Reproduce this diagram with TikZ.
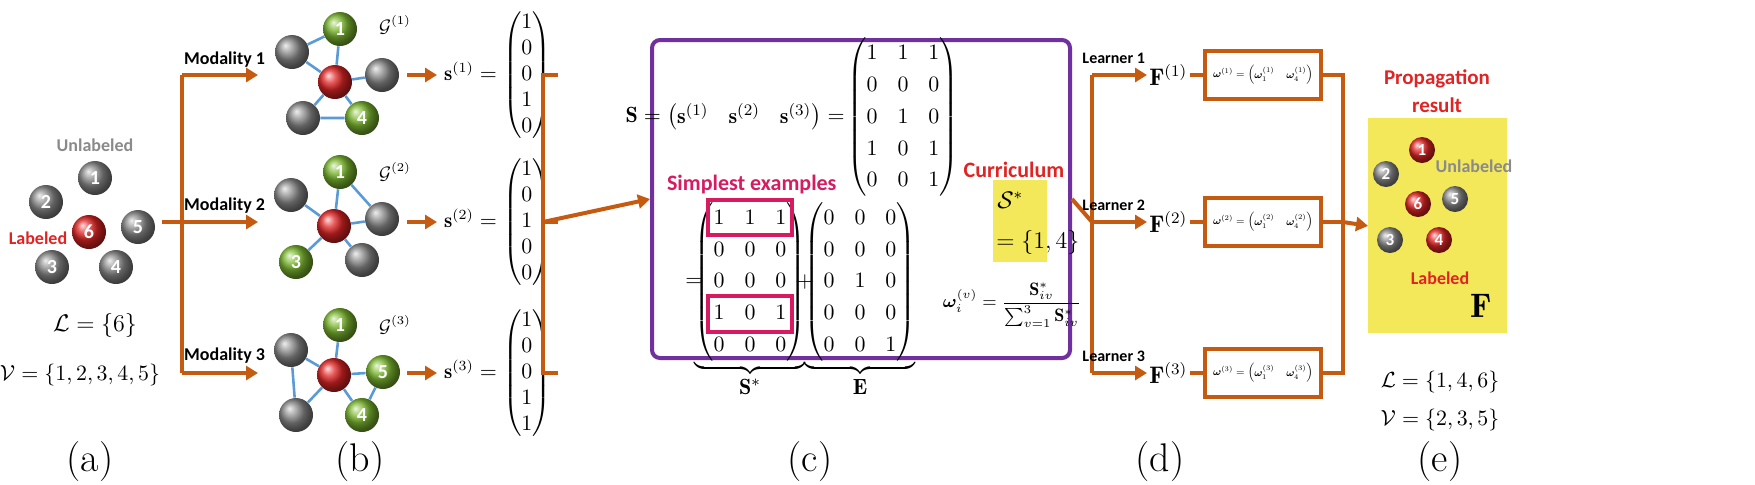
\documentclass[tikz,border=0pt]{standalone}
\usepackage{amsmath,amssymb,bm,graphicx}
\usepackage{fontspec}
\newfontfamily\lab{Carlito}
\usetikzlibrary{arrows.meta}
\definecolor{org}{HTML}{C55A11}
\definecolor{pur}{HTML}{7030A0}
\definecolor{grn}{HTML}{7CB82F}
\definecolor{gry}{HTML}{8A8A8A}
\definecolor{rd}{HTML}{E02424}
\definecolor{mag}{HTML}{D81B60}
\definecolor{yel}{HTML}{F2E85A}
\definecolor{edg}{HTML}{5B9BD5}
\tikzset{
 x=0.5pt,y=-0.5pt,
 ball/.style={circle,minimum size=17pt,inner sep=0pt,shading=ball,text=white,font=\lab\bfseries\fontsize{10}{10}\selectfont},
 gb/.style={ball,ball color=gry},
 gnb/.style={ball,ball color=grn},
 rb/.style={ball,ball color=rd},
 sb/.style={minimum size=13pt,font=\lab\bfseries\fontsize{8.5}{9}\selectfont},
 ed/.style={edg,line width=1.3pt},
 ar/.style={org,line width=2pt,-{Triangle[length=6pt,width=7pt]}},
 ln/.style={org,line width=2pt},
 lbl/.style={font=\lab\bfseries\fontsize{9}{11}\selectfont},
 lrn/.style={font=\lab\bfseries\fontsize{8}{10}\selectfont},
 mth/.style={font=\fontsize{9}{11}\selectfont},
 vec/.style={font=\fontsize{10.5}{13}\selectfont},
 big/.style={font=\fontsize{11}{13.2}\selectfont},
 captxt/.style={font=\fontsize{20}{24}\selectfont},
}
\begin{document}
\begin{tikzpicture}
\useasboundingbox (0,0) rectangle (1755,484);
% (a)
\node[gb] (a1) at (95,178) {1};
\node[gb] (a2) at (46,202) {2};
\node[rb] (a6) at (89,232) {6};
\node[gb] (a5) at (138,227) {5};
\node[gb] (a3) at (52,267) {3};
\node[gb] (a4) at (116,267) {4};
\node[lbl,text=gry] (ua) at (95,145) {Unlabeled};
\node[lbl,text=rd] (la) at (38,238) {Labeled};
\node[font=\fontsize{12}{14}\selectfont] (La) at (95,325) {$\mathcal{L}=\left\{6\right\}$};
\node[font=\fontsize{11}{13}\selectfont] (Va) at (80,375) {$\mathcal{V}=\left\{1,2,3,4,5\right\}$};
\node[captxt] (ca) at (90,462) {(a)};
% branch 1
\coordinate (b0) at (162,222); \coordinate (b1) at (182,222);
\coordinate (bt) at (182,75); \coordinate (bb) at (182,373);
\draw[ln] (b0) -- (b1);
\draw[ln] (bt) -- (bb);
\coordinate (m1) at (258,75); \coordinate (m2) at (258,222); \coordinate (m3) at (258,373);
\draw[ar] (bt) -- (m1); \draw[ar] (b1) -- (m2); \draw[ar] (bb) -- (m3);
\node[lbl,anchor=east] (t1) at (272,60) {Modality 1};
\node[lbl,anchor=east] (t2) at (272,206) {Modality 2};
\node[lbl,anchor=east] (t3) at (272,356) {Modality 3};
% graph 1
\node[gb] (g1a) at (292,52) {};
\node[gnb] (g1b) at (340,29) {1};
\node[rb] (g1c) at (335,82) {};
\node[gb] (g1d) at (382,75) {};
\node[gb] (g1e) at (303,118) {};
\node[gnb] (g1f) at (362,118) {4};
\draw[ed] (g1a)--(g1b) (g1b)--(g1c) (g1a)--(g1c) (g1c)--(g1d) (g1c)--(g1e) (g1c)--(g1f) (g1e)--(g1f);
\node[mth] (G1) at (395,25) {$\mathcal{G}^{(1)}$};
% graph 2
\node[gnb] (g2b) at (340,172) {1};
\node[gb] (g2a) at (291,195) {};
\node[rb] (g2c) at (334,226) {};
\node[gb] (g2d) at (382,219) {};
\node[gnb] (g2e) at (296,262) {3};
\node[gb] (g2f) at (362,260) {};
\draw[ed] (g2b)--(g2c) (g2b)--(g2d) (g2a)--(g2c) (g2c)--(g2d) (g2c)--(g2e) (g2c)--(g2f);
\node[mth] (G2) at (395,172) {$\mathcal{G}^{(2)}$};
% graph 3
\node[gnb] (g3b) at (340,325) {1};
\node[gb] (g3a) at (291,350) {};
\node[rb] (g3c) at (334,375) {};
\node[gnb] (g3d) at (383,372) {5};
\node[gb] (g3e) at (296,415) {};
\node[gnb] (g3f) at (362,415) {4};
\draw[ed] (g3b)--(g3c) (g3a)--(g3c) (g3a)--(g3e) (g3e)--(g3c) (g3c)--(g3d) (g3c)--(g3f) (g3f)--(g3d);
\node[mth] (G3) at (395,325) {$\mathcal{G}^{(3)}$};
% s vectors
\coordinate (s1a) at (407,75); \coordinate (s2a) at (407,222); \coordinate (s3a) at (407,373);
\node[vec,anchor=west] (s1) at (437,75) {$\mathbf{s}^{(1)}=\begin{pmatrix}1\\0\\0\\1\\0\end{pmatrix}$};
\node[vec,anchor=west] (s2) at (437,222) {$\mathbf{s}^{(2)}=\begin{pmatrix}1\\0\\1\\0\\0\end{pmatrix}$};
\node[vec,anchor=west] (s3) at (437,373) {$\mathbf{s}^{(3)}=\begin{pmatrix}1\\0\\0\\1\\1\end{pmatrix}$};
\draw[ar] (s1a) -- (s1.west); \draw[ar] (s2a) -- (s2.west); \draw[ar] (s3a) -- (s3.west);
\coordinate (c1) at (543,75); \coordinate (c3) at (543,373); \coordinate (c2) at (543,222);
\draw[ln] (s1.east) -- (c1) -- (c3) -- (s3.east);
\draw[ln] (s2.east) -- (c2);
% box c
\node[draw=pur,line width=2pt,rounded corners=4pt,minimum width=209pt,minimum height=159pt,anchor=north west] (boxc) at (650,38) {};
\draw[ar] (c2) -- (boxc.west);
\node[big,inner sep=0pt] (Stop) at (903,117) {\renewcommand{\arraystretch}{1.2}$\begin{pmatrix}1&1&1\\0&0&0\\0&1&0\\1&0&1\\0&0&1\end{pmatrix}$};
\node[big,anchor=east,inner sep=1pt] (Sdef) at (Stop.west) {$\mathbf{S}=\begin{pmatrix}\mathbf{s}^{(1)} & \mathbf{s}^{(2)} & \mathbf{s}^{(3)}\end{pmatrix}=$};
\node[lbl,text=mag,anchor=west,font=\lab\bfseries\fontsize{11}{13}\selectfont] (simp) at (660,184) {Simplest examples};
\node[big,anchor=base] (M1) at (750,287) {\renewcommand{\arraystretch}{1.2}$\underbrace{\begin{pmatrix}1&1&1\\0&0&0\\0&0&0\\1&0&1\\0&0&0\end{pmatrix}}_{\textstyle\mathbf{S}^*}$};
\node[big,anchor=base] (M2) at (860,287) {\renewcommand{\arraystretch}{1.2}$\underbrace{\begin{pmatrix}0&0&0\\0&0&0\\0&1&0\\0&0&0\\0&0&1\end{pmatrix}}_{\textstyle\mathbf{E}}$};
\node[big] (eq) at (694,282) {$=$};
\node[big] (pl) at (805,282) {$+$};
\draw[mag,line width=1.6pt] (708,200) rectangle (792,235);
\draw[mag,line width=1.6pt] (708,296) rectangle (792,332);
\node[lbl,text=rd,font=\lab\bfseries\fontsize{11}{13}\selectfont] (cur) at (1014,170) {Curriculum};
\node[fill=yel,minimum width=27pt,minimum height=41pt,anchor=north west] (yb) at (993,180) {};
\node[font=\fontsize{12}{14}\selectfont,anchor=west,inner sep=1pt] (sst) at (995,200) {$\mathcal{S}^*$};
\node[font=\fontsize{12}{14}\selectfont,anchor=west,inner sep=1pt] (sset) at (994,242) {$=\{1,4\}$};
\node[mth] (om) at (1012,305) {$\boldsymbol{\omega}_i^{(v)}=\dfrac{\mathbf{S}^*_{iv}}{\sum_{v=1}^{3}\mathbf{S}^*_{iv}}$};
\node[captxt] (cc) at (810,462) {(c)};
% (d)
\coordinate (d0) at (1092,222); \coordinate (dt) at (1092,75); \coordinate (db) at (1092,373);
\draw[ln] (boxc.east) -- (d0);
\draw[ln] (dt) -- (db);
\node[font=\fontsize{12}{14}\selectfont,anchor=west,inner sep=1pt] (F1) at (1147,75) {$\mathbf{F}^{(1)}$};
\node[font=\fontsize{12}{14}\selectfont,anchor=west,inner sep=1pt] (F2) at (1147,222) {$\mathbf{F}^{(2)}$};
\node[font=\fontsize{12}{14}\selectfont,anchor=west,inner sep=1pt] (F3) at (1147,373) {$\mathbf{F}^{(3)}$};
\draw[ar] (dt) -- (F1.west); \draw[ar] (d0) -- (F2.west); \draw[ar] (db) -- (F3.west);
\node[lrn,anchor=east] (l1) at (1152,58) {Learner 1};
\node[lrn,anchor=east] (l2) at (1152,205) {Learner 2};
\node[lrn,anchor=east] (l3) at (1152,356) {Learner 3};
\tikzset{wb/.style={draw=org,line width=2pt,minimum width=58pt,minimum height=24pt,inner sep=2pt,anchor=west,mth}}
\node[wb] (w1) at (1203,75) {\resizebox{50pt}{!}{$\boldsymbol{\omega}^{(1)}=\begin{pmatrix}\boldsymbol{\omega}_1^{(1)} & \boldsymbol{\omega}_4^{(1)}\end{pmatrix}$}};
\node[wb] (w2) at (1203,222) {\resizebox{50pt}{!}{$\boldsymbol{\omega}^{(2)}=\begin{pmatrix}\boldsymbol{\omega}_1^{(2)} & \boldsymbol{\omega}_4^{(2)}\end{pmatrix}$}};
\node[wb] (w3) at (1203,373) {\resizebox{50pt}{!}{$\boldsymbol{\omega}^{(3)}=\begin{pmatrix}\boldsymbol{\omega}_1^{(3)} & \boldsymbol{\omega}_4^{(3)}\end{pmatrix}$}};
\draw[ln] (F1.east) -- (w1.west); \draw[ln] (F2.east) -- (w2.west); \draw[ln] (F3.east) -- (w3.west);
\coordinate (e1) at (1343,75); \coordinate (e2) at (1343,222); \coordinate (e3) at (1343,373);
\draw[ln] (w1.east) -- (e1) -- (e3) -- (w3.east);
\draw[ln] (w2.east) -- (e2);
\node[captxt] (cd) at (1160,462) {(d)};
% (e)
\node[fill=yel,minimum width=69.5pt,minimum height=107.5pt,anchor=north west] (ye) at (1368,118) {};
\draw[ar] (e2) -- (ye.west);
\node[text=rd,align=center,font=\lab\bfseries\fontsize{10.5}{14}\selectfont] (pr) at (1437,91) {Propagation\\result};
\node[rb,sb] (e_1) at (1422,150) {1};
\node[gb,sb] (e_2) at (1386,174) {2};
\node[rb,sb] (e_6) at (1418,204) {6};
\node[gb,sb] (e_5) at (1455,199) {5};
\node[gb,sb] (e_3) at (1390,240) {3};
\node[rb,sb] (e_4) at (1439,240) {4};
\node[lbl,text=gry] (ue) at (1474,166) {Unlabeled};
\node[lbl,text=rd] (le) at (1440,278) {Labeled};
\node[font=\fontsize{17}{19}\selectfont] (FF) at (1481,306) {$\mathbf{F}$};
\node[font=\fontsize{11}{13}\selectfont] (Le) at (1440,382) {$\mathcal{L}=\left\{1,4,6\right\}$};
\node[font=\fontsize{11}{13}\selectfont] (Ve) at (1440,420) {$\mathcal{V}=\left\{2,3,5\right\}$};
\node[captxt] (ce) at (1440,462) {(e)};
\node[captxt] (cb) at (360,462) {(b)};
\end{tikzpicture}
\end{document}
